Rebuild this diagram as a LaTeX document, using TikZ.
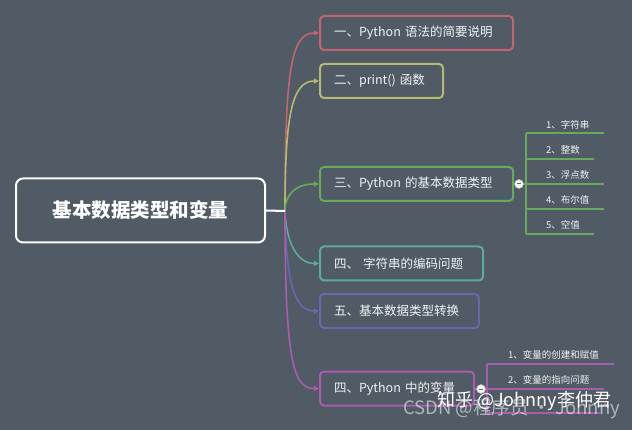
\documentclass[tikz,border=0pt]{standalone}
\usepackage{fontspec}
\setmainfont{Noto Sans CJK SC}
\usetikzlibrary{arrows.meta}
\definecolor{bg}{RGB}{80,91,102}
\definecolor{cred}{RGB}{196,100,110}
\definecolor{cyel}{RGB}{182,186,112}
\definecolor{cgrn}{RGB}{104,170,92}
\definecolor{cteal}{RGB}{92,170,160}
\definecolor{cblue}{RGB}{104,104,172}
\definecolor{cpur}{RGB}{172,92,172}
\definecolor{txt}{RGB}{240,242,244}
\tikzset{
  rootbox/.style={draw=white, line width=2pt, rounded corners=7pt, minimum width=249pt, minimum height=64pt,
    text=white, font=\bfseries\fontsize{19.5}{22}\selectfont, inner sep=0pt},
  topic/.style={draw=#1, line width=2pt, rounded corners=4pt, minimum height=34pt, inner xsep=14pt,
    inner ysep=0pt, anchor=west, text=txt, font=\fontsize{12.5}{14}\selectfont, align=left},
  conn/.style={line width=1.6pt, -{Triangle[length=5pt,width=5pt]}},
  sub/.style={anchor=west, text=txt, font=\fontsize{9.5}{11}\selectfont, inner sep=0pt},
  subline/.style={line width=2pt},
  collapse/.style={circle, fill=white!92!gray, draw=gray!60, line width=0.6pt, minimum size=9pt, inner sep=0pt},
}
\begin{document}
\begin{tikzpicture}[x=1pt,y=-1pt]
\fill[bg] (0,0) rectangle (632,430);
\useasboundingbox (0,0) rectangle (632,430);

% root
\node[rootbox] (root) at (140.5,210.5) {基本数据类型和变量};
\coordinate (hub) at (285,211);

% topics
\node[topic=cred,  text width=165pt] (b1) at (319,33)  {一、Python 语法的简要说明};
\node[topic=cyel,  text width=95pt]  (b2) at (319,81)  {二、print() 函数};
\node[topic=cgrn,  text width=165pt] (b3) at (319,184) {三、Python 的基本数据类型};
\node[topic=cteal, text width=135pt] (b4) at (319,263.5) {四、 字符串的编码问题};
\node[topic=cblue, text width=131pt] (b5) at (319,311) {五、基本数据类型转换};
\node[topic=cpur,  text width=126pt] (b6) at (319,388.5) {四、Python 中的变量};

% connectors
\draw[cred, conn]  (hub) .. controls (285,70) and (291,33) .. (b1.west);
\draw[cyel, conn]  (hub) .. controls (285,115) and (292,81) .. (b2.west);
\draw[cgrn, conn]  (hub) .. controls (285,195) and (295,184) .. (b3.west);
\draw[cteal, conn] (hub) .. controls (286,240) and (296,263.5) .. (b4.west);
\draw[cblue, conn] (hub) .. controls (286,290) and (297,311) .. (b5.west);
\draw[cpur, conn]  (hub) .. controls (285,365) and (294,388.5) .. (b6.west);
\draw[white, line width=2pt] (root.east) -- (hub);

% green subtree
\coordinate (gv1) at (526,133);
\coordinate (gv5) at (526,234);
\coordinate (gm) at (526,184);
\draw[cgrn, subline] (b3.east) -- (gm);
\draw[cgrn, subline] (gv1) -- (gv5);
\coordinate (ge1) at (604,133);
\coordinate (ge2) at (594,159);
\coordinate (ge3) at (604,184);
\coordinate (ge4) at (604,209);
\coordinate (ge5) at (594,234);
\coordinate (gs2) at (526,159);
\coordinate (gs4) at (526,209);
\draw[cgrn, subline] (gv1) -- (ge1);
\draw[cgrn, subline] (gs2) -- (ge2);
\draw[cgrn, subline] (gm) -- (ge3);
\draw[cgrn, subline] (gs4) -- (ge4);
\draw[cgrn, subline] (gv5) -- (ge5);
\node[sub] (g1) at (546,125) {1、字符串};
\node[sub] (g2) at (546,149.5) {2、整数};
\node[sub] (g3) at (546,174.5) {3、浮点数};
\node[sub] (g4) at (546,199.5) {4、布尔值};
\node[sub] (g5) at (546,224.5) {5、空值};
\node[collapse] (gc) at (519,184) {};
\draw[gray!80!black, line width=1pt] ([xshift=-2.3pt]gc.center) -- ([xshift=2.3pt]gc.center);

% purple subtree
\coordinate (pv1) at (487,364);
\coordinate (pv3) at (487,413);
\coordinate (pm) at (487,388.5);
\draw[cpur, subline] (b6.east) -- (pm);
\draw[cpur, subline] (pv1) -- (pv3);
\coordinate (pe1) at (614,364);
\coordinate (pe2) at (604,388.5);
\coordinate (pe3) at (600,413);
\draw[cpur, subline] (pv1) -- (pe1);
\draw[cpur, subline] (pm) -- (pe2);
\draw[cpur, subline] (pv3) -- (pe3);
\node[sub] (p1) at (508,355) {1、变量的创建和赋值};
\node[sub] (p2) at (508,380) {2、变量的指向问题};
\node[collapse] (pc) at (481,389) {};
\draw[gray!80!black, line width=1pt] ([xshift=-2.3pt]pc.center) -- ([xshift=2.3pt]pc.center);

% watermarks
\node[anchor=west, inner sep=0pt, text=white, opacity=0.55, font=\fontsize{18.5}{20}\selectfont] (wm2) at (403,409) {CSDN @程序员 · Johnny};
\node[anchor=west, inner sep=0pt, text=white, font=\fontsize{18}{20}\selectfont] (wm1) at (437,401) {知乎 @Johnny李仲君};
\end{tikzpicture}
\end{document}
